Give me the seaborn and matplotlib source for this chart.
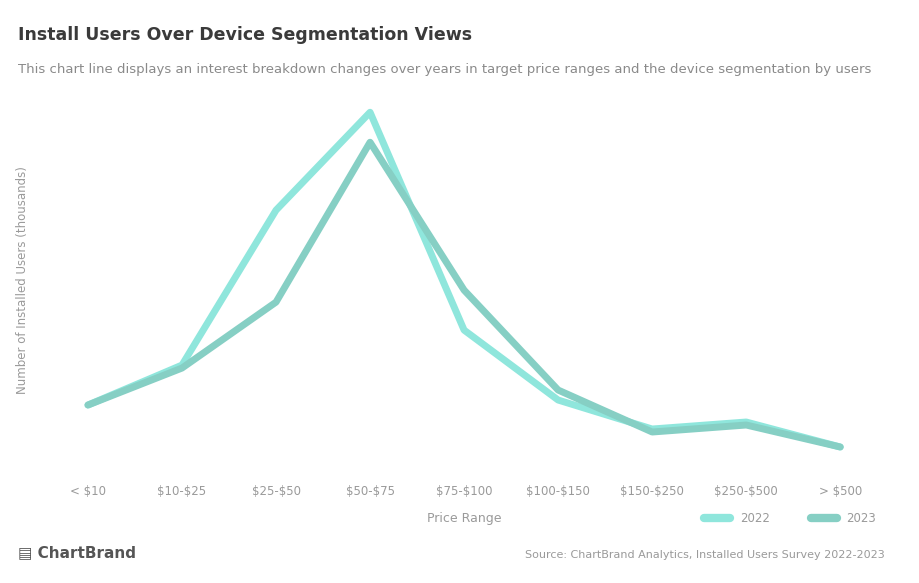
import matplotlib
matplotlib.use("Agg")
import matplotlib.pyplot as plt
import seaborn as sns
import pandas as pd

# -- Data -----------------------------------------------------------------------
price_ranges = ["< \\$10", "\\$10-\\$25", "\\$25-\\$50", "\\$50-\\$75", "\\$75-\\$100",
                "\\$100-\\$150", "\\$150-\\$250", "\\$250-\\$500", "> \\$500"]
users_2022 = [55, 95, 250, 348, 130, 60, 31, 38, 13]
users_2023 = [55, 92, 158, 318, 170, 70, 28, 35, 13]
years = ["2022", "2023"]

df = pd.DataFrame({
    "range": price_ranges * 2,
    "users": users_2022 + users_2023,
    "year": [years[0]] * len(price_ranges) + [years[1]] * len(price_ranges),
})

# -- Plot -----------------------------------------------------------------------
sns.set_theme(style="white")
plt.rcParams["font.family"] = ["DejaVu Sans"]

fig = plt.figure(figsize=(9.19, 5.83), dpi=100)
ax = fig.add_axes([0.065, 0.211, 0.88, 0.617])

palette = {"2022": "#8fe6dc", "2023": "#86cfc4"}
sns.lineplot(data=df, x="range", y="users", hue="year", palette=palette,
             linewidth=5, sort=False, ax=ax, legend=False)
for ln in ax.lines:
    ln.set_solid_capstyle("round")
    ln.set_solid_joinstyle("round")

ax.set_xlim(-0.3, 8.3)
ax.set_ylim(0, 360)
ax.set_yticks([])
ax.tick_params(axis="x", length=0, pad=18, labelsize=8.5, labelcolor="#9a9a9a")
for s in ax.spines.values():
    s.set_visible(False)
ax.set_xlabel("Price Range", fontsize=9, color="#9a9a9a", labelpad=10)
ax.set_ylabel("Number of Installed Users (thousands)", fontsize=8.5,
              color="#9a9a9a", labelpad=22)

# legend (bottom right)
handles = [plt.Line2D([], [], color=palette[y], lw=6, solid_capstyle="round")
           for y in years]
fig.legend(handles, years, loc="center right", bbox_to_anchor=(0.965, 0.11),
           ncol=2, frameon=False, fontsize=8.5, labelcolor="#9a9a9a",
           handlelength=2.2, columnspacing=3.5)

# titles
fig.text(0.02, 0.94, "Install Users Over Device Segmentation Views",
         fontsize=12.5, fontweight="bold", color="#3a3a3a", va="center")
fig.text(0.02, 0.88,
         "This chart line displays an interest breakdown changes over years "
         "in target price ranges and the device segmentation by users",
         fontsize=9.5, color="#8a8a8a", va="center")

# footer
fig.text(0.02, 0.052, "\u25a4 ChartBrand", fontsize=11, fontweight="bold",
         color="#555555", va="center")
fig.text(0.963, 0.048,
         "Source: ChartBrand Analytics, Installed Users Survey 2022-2023",
         fontsize=8, color="#9a9a9a", ha="right", va="center")

fig.savefig("out.png", dpi=100)
